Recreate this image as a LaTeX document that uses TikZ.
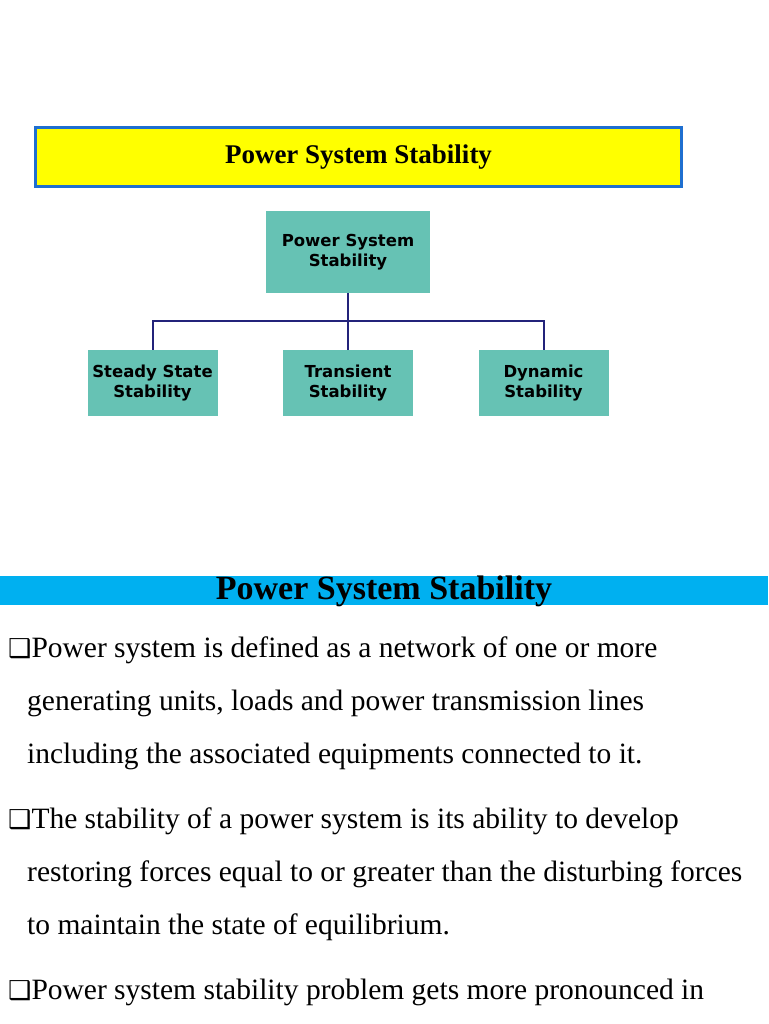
\documentclass[tikz,border=0pt]{standalone}
\usepackage{fontspec}
\setmainfont{Liberation Serif}
\setsansfont{Liberation Sans}
\newfontfamily\dejavu{DejaVu Sans}
\begin{document}
\begin{tikzpicture}[x=1pt,y=-1pt,
  teal/.style={fill=tealc,draw=none,minimum width=130pt,minimum height=66pt,align=center,font=\dejavu\bfseries\fontsize{16.5}{20}\selectfont},
  conn/.style={draw=navyc,line width=2pt},
  body/.style={anchor=base west,inner sep=0pt,font=\fontsize{29.5}{34}\selectfont}]
\definecolor{tealc}{HTML}{66C2B4}
\definecolor{navyc}{HTML}{23237A}
\definecolor{yel}{HTML}{FFFF00}
\definecolor{bord}{HTML}{1F6FD0}
\definecolor{band}{HTML}{00B0F0}
\useasboundingbox (0,0) rectangle (768,1024);
\fill[white] (0,0) rectangle (768,1024);
\node[draw=bord,line width=2.5pt,fill=yel,minimum width=646pt,minimum height=59pt,font=\bfseries\fontsize{27}{30}\selectfont] (top) at (358.5,157) {Power System Stability};
\node[teal,minimum width=164pt,minimum height=82pt] (root) at (348,252) {Power System\\Stability};
\node[teal] (c1) at (152.5,383) {Steady State\\Stability};
\node[teal] (c2) at (348,383) {Transient\\Stability};
\node[teal] (c3) at (543.5,383) {Dynamic\\Stability};
\coordinate (j) at (348,321);
\draw[conn] (root.south) -- (j);
\draw[conn] (c1.north) |- (j) -| (c3.north);
\draw[conn] (j) -- (c2.north);
\fill[band] (0,576) rectangle (768,605);
\node[font=\bfseries\fontsize{34}{38}\selectfont,inner sep=0pt] (hd) at (384,591) {Power System Stability};
\node[body] (b1) at (8,657) {{\dejavu\fontsize{26}{30}\selectfont ❑}Power system is defined as a network of one or more};
\node[body] (b1b) at (27,710) {generating units, loads and power transmission lines};
\node[body] (b1c) at (27,763) {including the associated equipments connected to it.};
\node[body] (b2) at (8,828) {{\dejavu\fontsize{26}{30}\selectfont ❑}The stability of a power system is its ability to develop};
\node[body] (b2b) at (27,881) {restoring forces equal to or greater than the disturbing forces};
\node[body] (b2c) at (27,934) {to maintain the state of equilibrium.};
\node[body] (b3) at (8,999) {{\dejavu\fontsize{26}{30}\selectfont ❑}Power system stability problem gets more pronounced in};
\end{tikzpicture}
\end{document}
